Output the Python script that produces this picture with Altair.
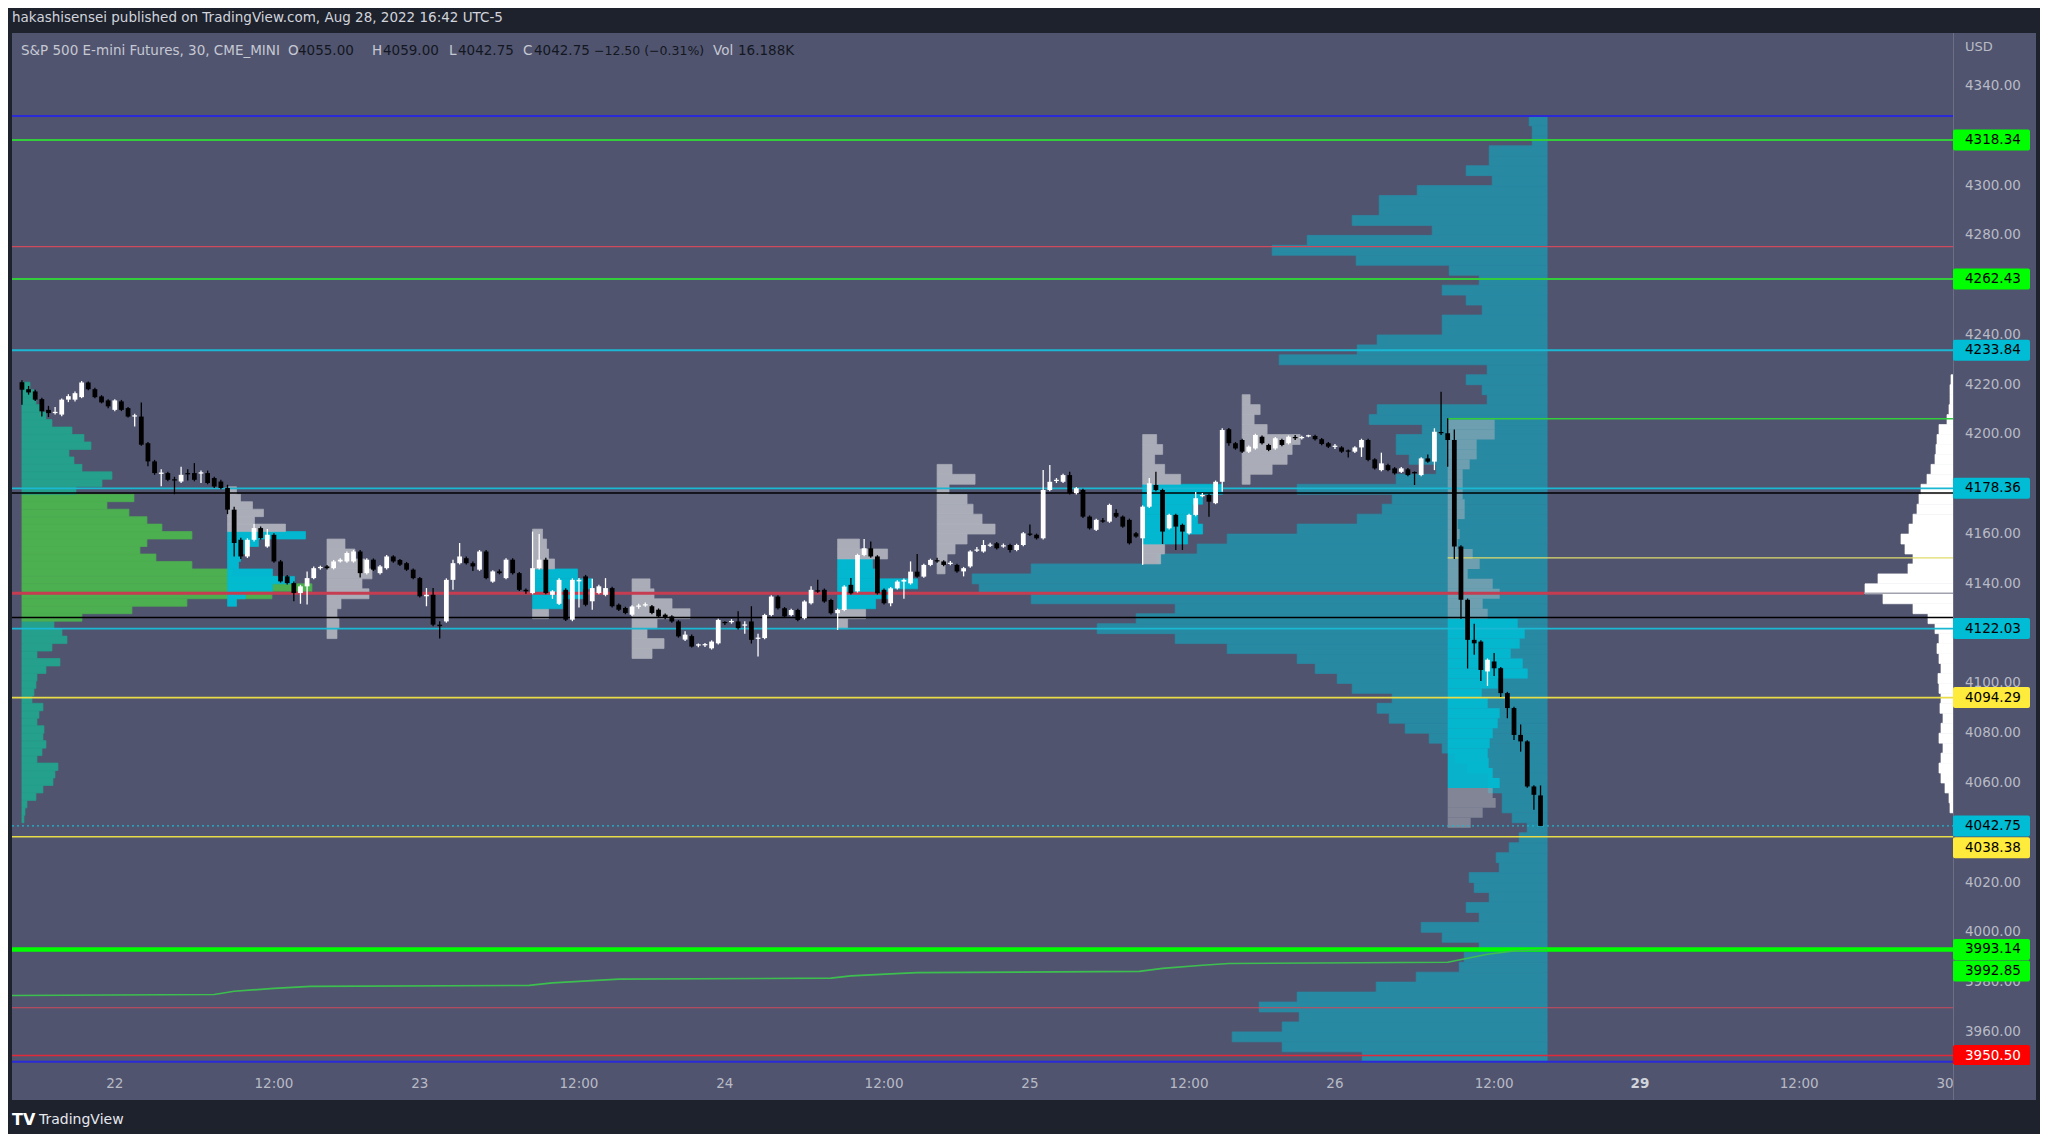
import altair as alt
import numpy as np
import pandas as pd

# =========================== DATA ===========================
# 30-minute ES bars; bar 0 = Aug 22 00:00 (UTC-5). First bar = Aug 21 17:00.
first_bar = -14

opens = [
    4221.0, 4218.2, 4217.3, 4214.2, 4209.9, 4208.6, 4208.0, 4214.0, 4214.0, 4215.0,
    4220.9, 4218.2, 4215.3, 4213.7, 4209.9, 4213.3, 4210.6, 4207.2, 4207.2, 4196.5,
    4189.2, 4184.2, 4184.5, 4181.8, 4181.1, 4184.2, 4184.5, 4184.3, 4184.5, 4182.5,
    4181.1, 4178.5, 4169.8, 4157.7, 4151.0, 4157.7, 4162.4, 4155.0, 4159.7, 4149.0,
    4143.0, 4140.3, 4136.3, 4139.0, 4142.3, 4146.3, 4147.0, 4146.3, 4149.0, 4149.0,
    4149.0, 4153.0, 4144.3, 4149.7, 4144.3, 4146.3, 4151.0, 4149.6, 4148.3, 4145.7,
    4142.3, 4135.0, 4135.6, 4123.6, 4124.9, 4141.6, 4148.3, 4150.3, 4148.3, 4145.7,
    4153.0, 4140.9, 4145.0, 4142.3, 4149.7, 4144.3, 4137.6, 4136.3, 4146.3, 4149.7,
    4135.6, 4132.0, 4137.6, 4125.6, 4141.0, 4143.0, 4133.0, 4136.3, 4135.6, 4138.3,
    4131.6, 4130.3, 4127.6, 4130.8, 4131.3, 4131.0, 4129.6, 4127.6, 4126.9, 4124.9,
    4117.6, 4119.0, 4115.2, 4115.3, 4114.1, 4116.1, 4124.5, 4124.6, 4124.9, 4123.2,
    4124.9, 4117.9, 4118.2, 4127.5, 4134.9, 4130.2, 4127.5, 4129.5, 4126.2, 4132.2,
    4137.2, 4137.6, 4133.5, 4128.2, 4129.5, 4139.6, 4137.0, 4151.6, 4154.3, 4151.0,
    4137.6, 4132.2, 4138.2, 4140.9, 4140.2, 4144.9, 4142.9, 4147.6, 4149.3, 4149.0,
    4148.0, 4147.6, 4145.0, 4147.0, 4153.3, 4153.0, 4155.3, 4156.3, 4155.0, 4155.6,
    4153.6, 4155.6, 4160.0, 4159.7, 4158.3, 4177.7, 4181.3, 4181.0, 4183.7, 4176.4,
    4177.7, 4167.0, 4161.7, 4165.3, 4165.0, 4168.5, 4167.0, 4165.7, 4160.3, 4158.3,
    4171.0, 4179.7, 4177.7, 4162.3, 4167.7, 4163.7, 4160.3, 4167.7, 4175.2, 4175.7,
    4172.4, 4181.0, 4202.1, 4196.5, 4197.8, 4193.1, 4194.4, 4199.1, 4195.8, 4194.4,
    4197.8, 4196.5, 4198.8, 4198.5, 4199.2, 4199.4, 4198.1, 4196.5, 4195.0, 4194.8,
    4193.4, 4193.1, 4194.8, 4197.8, 4190.0, 4185.7, 4187.7, 4186.4, 4185.0, 4186.0,
    4184.6, 4183.7, 4190.4, 4189.1, 4200.8, 4200.5, 4197.8, 4155.0, 4133.6, 4117.5,
    4116.8, 4104.8, 4108.8, 4106.1, 4096.1, 4090.1, 4079.3, 4076.7, 4058.6, 4055.0,
]
highs = [
    4221.8, 4219.5, 4218.0, 4214.8, 4211.5, 4211.0, 4214.5, 4216.2, 4217.3, 4221.5,
    4221.3, 4218.8, 4215.8, 4214.2, 4214.2, 4213.9, 4211.0, 4208.3, 4212.9, 4197.0,
    4189.8, 4186.0, 4185.0, 4183.0, 4187.0, 4186.0, 4188.5, 4185.5, 4185.5, 4183.0,
    4181.8, 4179.8, 4171.0, 4158.5, 4158.3, 4164.0, 4163.0, 4162.0, 4160.3, 4149.6,
    4143.6, 4140.9, 4139.6, 4145.0, 4147.0, 4147.3, 4147.6, 4149.6, 4150.3, 4153.0,
    4153.6, 4153.6, 4150.3, 4150.2, 4147.6, 4151.6, 4151.5, 4150.0, 4148.8, 4146.2,
    4142.8, 4138.3, 4138.3, 4125.0, 4142.2, 4149.7, 4156.4, 4151.0, 4149.0, 4153.6,
    4153.6, 4145.5, 4145.8, 4150.3, 4150.3, 4144.8, 4138.1, 4161.0, 4160.0, 4150.5,
    4137.5, 4142.2, 4138.2, 4142.2, 4142.3, 4143.6, 4142.0, 4139.6, 4142.3, 4138.8,
    4132.1, 4130.8, 4131.4, 4132.0, 4132.5, 4131.5, 4130.1, 4128.1, 4127.4, 4125.4,
    4121.0, 4119.6, 4116.0, 4116.2, 4117.3, 4126.0, 4125.0, 4125.8, 4129.0, 4125.0,
    4131.0, 4120.0, 4128.0, 4135.4, 4135.4, 4130.7, 4130.0, 4130.0, 4133.4, 4139.0,
    4141.6, 4138.1, 4134.0, 4130.0, 4139.4, 4142.3, 4152.1, 4158.0, 4157.0, 4151.5,
    4138.1, 4138.7, 4141.4, 4142.1, 4149.0, 4152.0, 4148.1, 4150.1, 4150.5, 4149.5,
    4149.2, 4148.1, 4146.8, 4153.5, 4154.8, 4157.6, 4156.5, 4156.8, 4156.2, 4156.1,
    4156.1, 4160.8, 4163.8, 4160.2, 4185.7, 4187.7, 4182.5, 4184.2, 4185.0, 4178.9,
    4178.2, 4167.5, 4166.2, 4166.5, 4172.2, 4170.0, 4167.5, 4166.2, 4160.8, 4171.5,
    4182.5, 4185.0, 4178.2, 4168.2, 4168.2, 4164.2, 4168.2, 4176.9, 4176.5, 4176.2,
    4181.5, 4202.5, 4202.6, 4197.0, 4198.3, 4195.6, 4200.3, 4199.6, 4196.3, 4199.0,
    4198.3, 4199.6, 4199.8, 4199.5, 4199.9, 4199.9, 4198.6, 4197.0, 4196.2, 4195.3,
    4194.0, 4195.3, 4198.3, 4198.3, 4190.5, 4192.7, 4188.2, 4186.9, 4186.9, 4186.5,
    4185.2, 4190.9, 4192.0, 4202.5, 4217.2, 4206.5, 4202.0, 4155.5, 4134.1, 4124.0,
    4117.3, 4110.0, 4112.2, 4106.6, 4096.6, 4090.6, 4083.5, 4077.2, 4059.1, 4059.0,
]
lows = [
    4212.0, 4216.0, 4213.5, 4207.2, 4207.0, 4208.0, 4207.3, 4213.0, 4213.3, 4214.6,
    4217.8, 4214.6, 4212.5, 4210.5, 4209.3, 4209.4, 4206.8, 4203.2, 4195.5, 4187.2,
    4183.8, 4179.2, 4181.2, 4176.0, 4180.5, 4181.5, 4181.2, 4180.5, 4180.0, 4178.5,
    4178.0, 4168.0, 4151.0, 4150.0, 4150.4, 4157.0, 4157.8, 4154.5, 4148.5, 4140.5,
    4139.7, 4133.0, 4132.0, 4131.7, 4141.8, 4145.7, 4145.8, 4145.8, 4148.6, 4148.5,
    4148.5, 4142.5, 4143.8, 4145.2, 4143.8, 4145.8, 4148.5, 4147.2, 4145.2, 4141.8,
    4134.5, 4131.0, 4123.0, 4118.0, 4124.4, 4137.6, 4147.8, 4147.8, 4145.2, 4145.2,
    4141.8, 4140.4, 4143.8, 4141.8, 4143.8, 4137.1, 4136.0, 4135.8, 4145.8, 4135.8,
    4134.0, 4131.5, 4125.1, 4125.0, 4130.5, 4131.0, 4129.6, 4135.8, 4135.0, 4130.5,
    4129.1, 4127.8, 4127.1, 4130.0, 4130.8, 4127.8, 4126.4, 4125.8, 4124.4, 4118.4,
    4117.0, 4114.4, 4114.5, 4114.6, 4113.6, 4115.6, 4123.5, 4124.0, 4121.7, 4120.0,
    4116.0, 4110.8, 4117.7, 4127.0, 4129.7, 4126.4, 4127.0, 4125.0, 4125.7, 4131.7,
    4136.4, 4132.4, 4127.7, 4121.5, 4129.0, 4135.7, 4136.5, 4151.1, 4150.5, 4135.7,
    4131.7, 4131.0, 4137.7, 4134.0, 4139.7, 4142.4, 4142.4, 4147.1, 4148.5, 4147.1,
    4147.5, 4144.5, 4143.0, 4146.5, 4152.8, 4152.5, 4154.8, 4153.8, 4154.5, 4152.6,
    4153.1, 4155.1, 4159.2, 4157.8, 4157.8, 4177.2, 4180.5, 4180.5, 4175.9, 4175.9,
    4166.5, 4161.8, 4161.2, 4164.5, 4164.5, 4166.5, 4162.5, 4155.8, 4158.5, 4147.6,
    4170.5, 4177.2, 4156.0, 4161.8, 4153.6, 4153.6, 4159.8, 4167.2, 4174.8, 4167.0,
    4172.0, 4177.0, 4195.5, 4193.9, 4192.6, 4192.6, 4193.9, 4196.0, 4193.3, 4193.9,
    4195.3, 4196.0, 4197.8, 4198.0, 4198.9, 4197.6, 4195.7, 4194.6, 4194.2, 4192.6,
    4190.8, 4192.6, 4191.0, 4189.3, 4185.9, 4185.2, 4185.2, 4183.9, 4184.5, 4183.2,
    4179.7, 4183.2, 4188.6, 4185.7, 4199.8, 4187.0, 4150.0, 4126.0, 4106.0, 4111.5,
    4101.0, 4099.0, 4103.0, 4094.5, 4086.0, 4077.3, 4072.6, 4058.1, 4049.2, 4042.75,
]
closes = [
    4218.0, 4216.9, 4214.0, 4209.3, 4208.6, 4209.0, 4214.0, 4215.4, 4216.6, 4220.9,
    4218.2, 4215.0, 4212.9, 4211.3, 4213.7, 4209.9, 4207.2, 4207.5, 4195.9, 4189.2,
    4184.5, 4184.6, 4181.8, 4181.5, 4183.8, 4184.0, 4181.8, 4184.8, 4180.5, 4179.1,
    4178.5, 4169.8, 4156.4, 4151.0, 4157.7, 4162.4, 4158.4, 4159.7, 4149.0, 4141.0,
    4140.3, 4136.3, 4139.0, 4142.3, 4146.3, 4146.5, 4146.3, 4149.0, 4149.7, 4152.4,
    4153.0, 4144.3, 4149.7, 4145.7, 4147.0, 4151.0, 4149.0, 4147.7, 4145.7, 4142.3,
    4135.0, 4135.6, 4123.6, 4123.0, 4141.6, 4148.3, 4151.0, 4148.3, 4147.0, 4153.0,
    4142.3, 4145.0, 4144.3, 4149.7, 4144.3, 4137.6, 4137.0, 4146.3, 4149.7, 4136.3,
    4137.0, 4141.6, 4125.6, 4141.6, 4141.6, 4131.6, 4138.3, 4139.0, 4138.3, 4131.0,
    4129.6, 4128.3, 4130.9, 4131.0, 4131.6, 4128.3, 4126.9, 4126.3, 4124.9, 4118.9,
    4119.6, 4114.8, 4115.5, 4115.6, 4116.8, 4125.5, 4124.2, 4124.9, 4122.2, 4123.5,
    4117.5, 4118.2, 4127.5, 4134.9, 4130.2, 4126.9, 4129.5, 4125.5, 4132.9, 4137.6,
    4136.9, 4132.9, 4128.2, 4129.5, 4138.9, 4136.2, 4151.6, 4154.3, 4151.0, 4136.2,
    4132.2, 4138.2, 4140.9, 4141.6, 4144.9, 4142.9, 4147.6, 4149.6, 4149.0, 4147.6,
    4148.3, 4145.0, 4146.3, 4153.0, 4153.6, 4155.6, 4155.6, 4154.3, 4155.4, 4153.6,
    4155.6, 4160.3, 4159.7, 4158.3, 4177.7, 4181.0, 4181.7, 4183.7, 4176.4, 4178.4,
    4167.0, 4162.3, 4165.7, 4165.0, 4171.7, 4167.0, 4163.0, 4156.3, 4159.0, 4171.0,
    4180.4, 4177.7, 4161.0, 4167.7, 4163.0, 4161.0, 4167.7, 4174.4, 4175.7, 4173.0,
    4181.0, 4201.8, 4196.5, 4194.4, 4193.1, 4195.1, 4199.8, 4196.5, 4193.8, 4198.5,
    4195.8, 4199.1, 4198.5, 4198.7, 4199.4, 4198.1, 4196.2, 4195.1, 4195.1, 4193.1,
    4193.1, 4194.8, 4197.8, 4189.8, 4186.4, 4188.4, 4185.7, 4184.4, 4186.4, 4183.7,
    4184.4, 4190.4, 4189.1, 4201.1, 4200.5, 4197.8, 4155.0, 4133.6, 4117.5, 4116.1,
    4105.4, 4109.5, 4106.1, 4096.1, 4090.1, 4079.3, 4076.7, 4058.6, 4055.25, 4042.75,
]
last_volume = "16.188K"

# time axis
time_tick_bars = [0, 24, 46, 70, 92, 116, 138, 162, 184, 208, 230, 254, 276]
time_tick_labels = ["22", "12:00", "23", "12:00", "24", "12:00", "25", "12:00",
                    "26", "12:00", "29", "12:00", "30"]
bold_tick_labels = ["29"]
price_ticks = [3960, 3980, 4000, 4020, 4040, 4060, 4080, 4100, 4120, 4140, 4160,
               4180, 4200, 4220, 4240, 4260, 4280, 4300, 4320, 4340]

# horizontal levels
blue_levels = [4328.0, 3948.0]
green_levels = [4318.34, 4262.43]
red_levels = [4275.5, 3969.7]
red_strong_levels = [3950.5]
cyan_levels = [4233.84, 4178.36, 4122.03]
black_levels = [4176.5, 4126.5]
yellow_levels = [4094.29, 4038.38]
bright_green_level = 3993.14
poc_level = 4136.2
poc_end_bar = 263.8
session_start_bar = 201
green_session_level = 4206.3
yellow_session_level = 4150.4
last_price = 4042.75

# rising green line (anchored average)
avg_bars = [-15.5, 15.0, 18.0, 24.0, 29.5, 62.5, 66.0, 72.0, 76.0, 108.0, 111.0,
            117.0, 121.0, 154.5, 158.0, 164.0, 168.0, 201.0, 204.0, 207.0, 211.0, 216.0]
avg_prices = [3974.6, 3975.0, 3976.3, 3977.5, 3978.3, 3978.7, 3979.7, 3980.6, 3981.2,
              3981.6, 3982.5, 3983.3, 3983.8, 3984.3, 3985.5, 3986.8, 3987.5, 3988.0,
              3989.6, 3991.2, 3992.5, 3993.1]

# price-scale labels
label_prices = [4318.34, 4262.43, 4233.84, 4178.36, 4122.03, 4094.29, 4042.75,
                4038.38, 3993.14, 3992.85, 3950.50]
label_kinds = ["green", "green", "cyan", "cyan", "cyan", "yellow", "cyan",
               "yellow", "green", "green", "red"]

# ---- volume profiles (volumes in relative units) ----
left_prof_bottom, left_prof_step = 4044, 3
left_prof_vol = [2, 3, 5, 14, 21, 31, 33, 36, 15, 20,
                 24, 21, 22, 15, 17, 21, 10, 12, 14, 15,
                 24, 38, 15, 30, 45, 40, 32, 60, 110, 165,
                 250, 290, 255, 210, 170, 134, 118, 125, 170, 140,
                 125, 107, 85, 112, 54, 80, 90, 60, 52, 47,
                 69, 62, 50, 30, 24, 20, 14, 12, 8]
left_prof_va = (4126.5, 4176.5)

fr_prof_anchor = 216
fr_prof_bottom, fr_prof_step = 3948, 4
fr_prof_vol = [185, 265, 315, 265, 248, 288, 250, 171, 131, 88,
               83, 68, 105, 126, 68, 81, 58, 73, 78, 48,
               51, 38, 28, 20, 35, 45, 45, 59, 59, 80,
               92, 105, 118, 142, 158, 170, 155, 195, 210, 232,
               250, 320, 372, 450, 411, 372, 516, 568, 575, 516,
               390, 350, 320, 250, 190, 165, 155, 250, 151, 111,
               138, 151, 151, 125, 178, 170, 60, 65, 81, 60,
               268, 190, 170, 105, 105, 65, 81, 105, 68, 98,
               191, 275, 240, 115, 195, 168, 168, 130, 55, 81,
               58, 58, 15, 15, 18]

vr_prof_bottom, vr_prof_step = 4048, 4
vr_prof_vol = [3, 4, 8, 12, 14, 12, 10, 14, 12, 10,
               13, 12, 14, 15, 12, 14, 16, 14, 18, 25,
               40, 70, 88, 75, 45, 40, 48, 52, 44, 40,
               36, 34, 32, 26, 22, 18, 17, 16, 14, 6,
               4, 3, 3, 2]

# session profiles: (start bar, bottom price, step, volumes, value area or None)
rth22 = (17, 4131, 3, [9, 18, 45, 67, 45, 11, 13, 18, 31, 78, 58, 27, 36, 25, 13, 9], (4131, 4161))
on23 = (32, 4118, 4, [10, 12, 10, 14, 42, 35, 45, 38, 28, 18], None)
rth23 = (63, 4126, 4, [16, 30, 50, 60, 45, 22, 16, 14, 10], (4130, 4146))
on24 = (78, 4110, 4, [20, 32, 15, 25, 58, 40, 22, 18], None)
rth24 = (109, 4122, 4, [10, 28, 38, 55, 80, 40, 35, 50, 22], (4130, 4150))
on25 = (124, 4144, 4, [8, 10, 18, 30, 58, 45, 36, 30, 12, 38, 15], None)
rth25 = (155, 4148, 4, [18, 22, 45, 60, 55, 50, 60, 80, 38, 22, 12, 20, 14], (4156, 4180))
on26 = (170, 4180, 4, [8, 30, 45, 50, 58, 25, 12, 18, 8], None)
rth26 = (201, 4042, 4, [23, 35, 48, 45, 52, 45, 41, 40, 42, 45,
                        50, 52, 40, 34, 50, 80, 75, 63, 72, 77,
                        70, 40, 35, 52, 45, 20, 32, 25, 10, 12,
                        10, 17, 17, 15, 15, 15, 22, 29, 29, 47, 47], (4058, 4126))

# =========================== LAYOUT / STYLE ===========================
W, H = 1941, 1031
X_DOM = [-15.5, 277.2]
Y_DOM = [3947.1, 4361.3]
PX_PER_BAR = W / (X_DOM[1] - X_DOM[0])
PT_PER_PX = (Y_DOM[1] - Y_DOM[0]) / H
FONT = "DejaVu Sans"
BG_DARK = "#1e222d"
BG_PANE = "#50546f"
AXIS_TXT = "#b8bbc6"
GRAY_PROF = "#b2b5be"
CYAN = "#00bcd4"

xs = alt.Scale(domain=X_DOM, nice=False, zero=False)
ys = alt.Scale(domain=Y_DOM, nice=False, zero=False)


def X(f):
    return alt.X(f, type="quantitative", scale=xs, axis=None)


def Y(f):
    return alt.Y(f, type="quantitative", scale=ys, axis=None)


one = pd.DataFrame({"a": [0]})
layers = []

layers.append(alt.Chart(one).mark_rect(color=BG_PANE).encode(
    x=alt.value(0), x2=alt.value(W + 83), y=alt.value(0), y2=alt.value(H + 36)))


def prof_df(start, bottom, step, vols, right=False, va=None, base=GRAY_PROF,
            va_col=CYAN, op=1.0, va_op=1.0):
    v = np.array(vols, dtype=float)
    lo = bottom + step * np.arange(len(v))
    w = v / PX_PER_BAR
    if right:
        x0, x1 = start - w, np.full_like(w, start)
    else:
        x0, x1 = np.full_like(w, start), start + w
    mid = lo + step / 2
    if va is not None:
        inva = (mid >= va[0]) & (mid <= va[1])
    else:
        inva = np.zeros(len(v), dtype=bool)
    return pd.DataFrame({"lo": lo, "hi": lo + step, "x0": x0, "x1": x1,
                         "col": np.where(inva, va_col, base),
                         "op": np.where(inva, va_op, op)})


def prof_layer(d, seam=True):
    kw = dict(strokeWidth=0.7) if seam else dict(strokeWidth=0)
    enc = dict(x=X("x0"), x2="x1", y=Y("lo"), y2="hi",
               color=alt.Color("col:N", scale=None),
               opacity=alt.Opacity("op:Q", scale=None))
    if seam:
        enc["stroke"] = alt.Stroke("col:N", scale=None)
    return alt.Chart(d).mark_rect(**kw).encode(**enc)


layers.append(prof_layer(prof_df(fr_prof_anchor, fr_prof_bottom, fr_prof_step,
                                 fr_prof_vol, right=True, base="#2889a3")))
layers.append(prof_layer(prof_df(first_bar, left_prof_bottom, left_prof_step,
                                 left_prof_vol, va=left_prof_va, base="#24a08c",
                                 va_col="#4caf50")))
layers.append(prof_layer(prof_df(X_DOM[1], vr_prof_bottom, vr_prof_step,
                                 vr_prof_vol, right=True, base="#ffffff")))
for s in [rth22, on23, rth23, on24, rth24, on25, rth25, on26]:
    layers.append(prof_layer(prof_df(s[0], s[1], s[2], s[3], va=s[4], op=0.92, va_op=0.96)))
layers.append(prof_layer(prof_df(rth26[0], rth26[1], rth26[2], rth26[3], va=rth26[4],
                                 op=0.5, va_op=0.9), seam=False))


def hlines(prices, color, width, x0=X_DOM[0], x1=X_DOM[1], dash=None):
    d = pd.DataFrame({"p": prices, "x0": x0, "x1": x1})
    kw = dict(color=color, strokeWidth=width)
    if dash:
        kw["strokeDash"] = dash
    return alt.Chart(d).mark_rule(**kw).encode(x=X("x0"), x2="x1", y=Y("p"))


layers += [
    hlines(blue_levels, "#2a2ad8", 2),
    hlines(green_levels, "#33cc3a", 2),
    hlines(red_levels, "#cf4a5c", 1.2),
    hlines(red_strong_levels, "#e02a3c", 1.6),
    hlines([poc_level], "#c63c50", 3, x1=poc_end_bar),
    hlines([poc_level], "#a0a3ad", 1.5, x0=poc_end_bar),
    hlines(cyan_levels, "#1ab8d2", 1.8),
    hlines(black_levels, "#000000", 1.6),
    hlines(yellow_levels, "#e8dc48", 1.6),
    hlines([green_session_level], "#33cc3a", 1.5, x0=session_start_bar),
    hlines([yellow_session_level], "#e0dc6a", 1.3, x0=session_start_bar),
    hlines([last_price], "#1ab8d2", 1.2, dash=[2, 3]),
    hlines([bright_green_level], "#00ff00", 4.5),
]

avg_df = pd.DataFrame({"bar": avg_bars, "p": avg_prices})
layers.append(alt.Chart(avg_df).mark_line(color="#3dbf4f", strokeWidth=1.6).encode(
    x=X("bar"), y=Y("p")))

# ---- candles ----
n = min(len(opens), len(highs), len(lows), len(closes))
cd = pd.DataFrame({"bar": np.arange(first_bar, first_bar + n),
                   "o": opens[:n], "h": highs[:n], "l": lows[:n], "c": closes[:n]})
cd["up"] = cd["c"] >= cd["o"]
cd["bt"] = np.maximum(cd["o"], cd["c"])
cd["bb"] = np.minimum(cd["o"], cd["c"])
cd["bt"] = np.maximum(cd["bt"], cd["bb"] + 0.5)
cd["x0"] = cd["bar"] - 0.36
cd["x1"] = cd["bar"] + 0.36
cd["col"] = np.where(cd["up"], "#ffffff", "#000000")
layers.append(alt.Chart(cd).mark_rule(strokeWidth=1.3).encode(
    x=X("bar"), y=Y("l"), y2="h", color=alt.Color("col:N", scale=None)))
layers.append(alt.Chart(cd).mark_rect().encode(
    x=X("x0"), x2="x1", y=Y("bb"), y2="bt", color=alt.Color("col:N", scale=None)))

# ---- price axis ----
layers.append(alt.Chart(one).mark_rule(color="#6c6f87", strokeWidth=1).encode(
    x=alt.value(W + 0.5), y=alt.value(0), y2=alt.value(H + 36)))

kind_fill = {"green": "#00ff00", "cyan": "#00bcd4", "yellow": "#ffeb3b", "red": "#ff0000"}
kind_text = {"green": "#000000", "cyan": "#000000", "yellow": "#000000", "red": "#ffffff"}
label_nudge_px = {4038.38: 11, 3992.85: 21}
lb = pd.DataFrame({"p": label_prices, "k": label_kinds})
lb["center"] = [p - label_nudge_px.get(p, 0) * PT_PER_PX for p in lb["p"]]
lb["top"] = lb["center"] + 10.5 * PT_PER_PX
lb["bot"] = lb["center"] - 10.5 * PT_PER_PX
lb["fill"] = lb["k"].map(kind_fill)
lb["tc"] = lb["k"].map(kind_text)
lb["t"] = [f"{p:.2f}" for p in lb["p"]]

# tick labels fully covered by a coloured price label are not drawn (as in TradingView)
visible_ticks = [v for v in price_ticks
                 if min(abs(v - c) for c in lb["center"]) / PT_PER_PX > 8]
pt_df = pd.DataFrame({"v": visible_ticks, "t": [f"{v:.2f}" for v in visible_ticks]})
layers.append(alt.Chart(pt_df).mark_text(align="left", baseline="middle", font=FONT,
                                         fontSize=13.5, color=AXIS_TXT).encode(
    x=alt.value(W + 12), y=Y("v"), text="t:N"))
layers.append(alt.Chart(one).mark_text(text="USD", align="left", baseline="middle",
                                       font=FONT, fontSize=13, color=AXIS_TXT).encode(
    x=alt.value(W + 12), y=alt.value(14)))

layers.append(alt.Chart(lb).mark_rect(cornerRadius=2).encode(
    x=alt.value(W), x2=alt.value(W + 77), y=Y("top"), y2="bot",
    color=alt.Color("fill:N", scale=None)))
layers.append(alt.Chart(lb).mark_text(align="left", baseline="middle", font=FONT,
                                      fontSize=13.5).encode(
    x=alt.value(W + 12), y=Y("center"), text="t:N",
    color=alt.Color("tc:N", scale=None)))

# ---- time axis ----
tt = pd.DataFrame({"bar": time_tick_bars, "t": time_tick_labels})
tt["bold"] = tt["t"].isin(bold_tick_labels)
layers.append(alt.Chart(tt[~tt["bold"]]).mark_text(align="center", baseline="middle",
                                                   font=FONT, fontSize=13.5,
                                                   color=AXIS_TXT).encode(
    x=X("bar"), y=alt.value(H + 20), text="t:N"))
layers.append(alt.Chart(tt[tt["bold"]]).mark_text(align="center", baseline="middle",
                                                  font=FONT, fontSize=13.5, fontWeight="bold",
                                                  color="#d1d4dc").encode(
    x=X("bar"), y=alt.value(H + 20), text="t:N"))
layers.append(alt.Chart(one).mark_rect(color=BG_PANE).encode(
    x=alt.value(W + 1), x2=alt.value(W + 83), y=alt.value(H + 1), y2=alt.value(H + 36)))
layers.append(alt.Chart(one).mark_rule(color="#6c6f87", strokeWidth=1).encode(
    x=alt.value(W + 0.5), y=alt.value(H), y2=alt.value(H + 36)))

# ---- header texts ----
chg = closes[n - 1] - closes[n - 2]
pct = chg / closes[n - 2] * 100
minus = "\u2212"
chg_txt = f"{minus if chg < 0 else '+'}{abs(chg):.2f} ({minus if pct < 0 else '+'}{abs(pct):.2f}%)"
GRAY_T, DARK_T = "#c6c8d3", "#131722"
header = [
    ("S&P 500 E-mini Futures, 30, CME_MINI", 9, GRAY_T, 13.5),
    ("O", 276, GRAY_T, 13.5), (f"{opens[n-1]:.2f}", 286, DARK_T, 13.5),
    ("H", 360, GRAY_T, 13.5), (f"{highs[n-1]:.2f}", 371, DARK_T, 13.5),
    ("L", 437, GRAY_T, 13.5), (f"{lows[n-1]:.2f}", 446, DARK_T, 13.5),
    ("C", 511, GRAY_T, 13.5), (f"{closes[n-1]:.2f}", 522, DARK_T, 13.5),
    (chg_txt, 582, DARK_T, 12.5),
    ("Vol", 701, GRAY_T, 13.5), (last_volume, 726, DARK_T, 13.5),
]
for txt, xo, col, fs in header:
    layers.append(alt.Chart(one).mark_text(text=txt, align="left", baseline="middle",
                                           font=FONT, fontSize=fs, color=col).encode(
        x=alt.value(xo), y=alt.value(18)))

layers.append(alt.Chart(one).mark_text(
    text="hakashisensei published on TradingView.com, Aug 28, 2022 16:42 UTC-5",
    align="left", baseline="middle", font=FONT, fontSize=13.5, color="#d1d4dc").encode(
    x=alt.value(0), y=alt.value(-15)))
layers.append(alt.Chart(one).mark_text(text="TV", align="left", baseline="middle",
                                       font=FONT, fontSize=16, fontWeight="bold",
                                       color="#ffffff").encode(
    x=alt.value(0), y=alt.value(H + 56)))
layers.append(alt.Chart(one).mark_text(text="TradingView", align="left", baseline="middle",
                                       font=FONT, fontSize=14, color="#e6e8ee").encode(
    x=alt.value(27), y=alt.value(H + 56)))

chart = alt.layer(*layers).properties(
    width=W, height=H,
    background=BG_DARK,
    padding={"left": 4, "top": 25, "right": 87, "bottom": 70},
    autosize=alt.AutoSizeParams(type="none"),
).configure_view(strokeWidth=0)

chart.save("out.html", embed_options={"renderer": "svg", "actions": False})
